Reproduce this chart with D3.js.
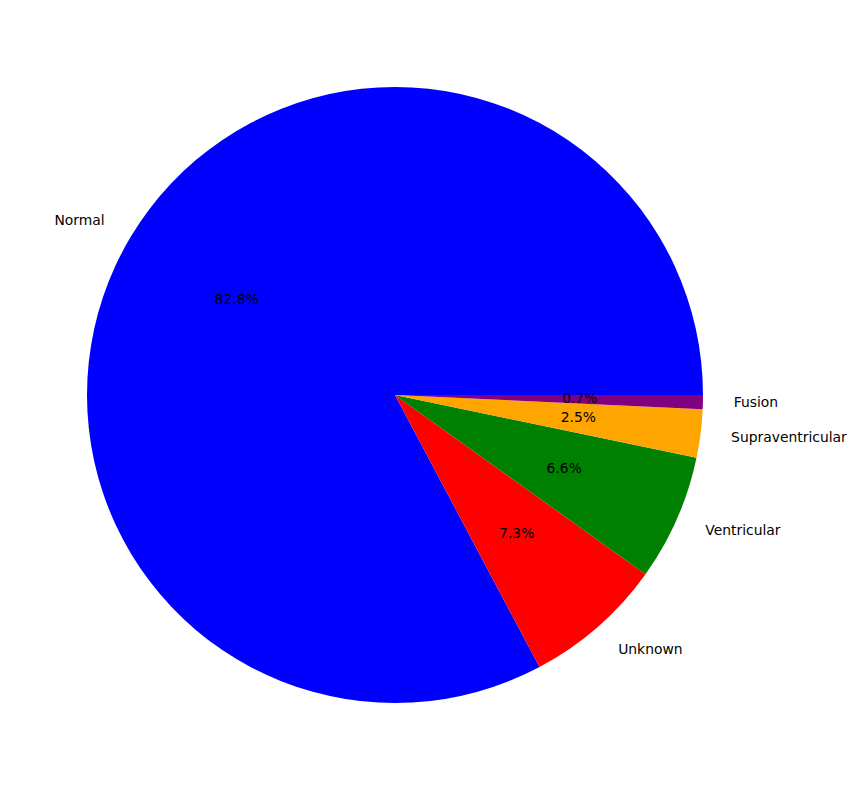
<!DOCTYPE html>
<html>
<head>
<meta charset="utf-8">
<script src="https://cdn.jsdelivr.net/npm/d3@7"></script>
<style>
  body { margin: 0; background: #fff; }
  text { font-family: "DejaVu Sans", sans-serif; font-size: 13.89px; fill: #000; }
</style>
</head>
<body>
<script>
// beat classes and counts (drawn counterclockwise from 3 o'clock)
const labels = ["Normal", "Unknown", "Ventricular", "Supraventricular", "Fusion"];
const counts = [72471, 6431, 5788, 2223, 641];
const colors = ["blue", "red", "green", "orange", "purple"];

const width = 857, height = 790;
const cx = 395, cy = 395, radius = 308;

const svg = d3.select("body").append("svg")
    .attr("width", width)
    .attr("height", height);

const g = svg.append("g")
    .attr("transform", `translate(${cx},${cy})`);

const total = d3.sum(counts);
const data = labels.map((l, i) => ({ label: l, value: counts[i], color: colors[i] }));

const pie = d3.pie()
    .value(d => d.value)
    .sort(null)
    .startAngle(Math.PI / 2)
    .endAngle(Math.PI / 2 - 2 * Math.PI);

const arcs = pie(data);
const arc = d3.arc().innerRadius(0).outerRadius(radius);

g.selectAll("path")
    .data(arcs)
    .enter()
    .append("path")
    .attr("d", arc)
    .attr("fill", d => d.data.color);

// position helpers: d3 angle is clockwise from 12 o'clock
const pos = (d, r) => {
    const a = (d.startAngle + d.endAngle) / 2;
    return [r * Math.sin(a), -r * Math.cos(a)];
};

g.selectAll("text.label")
    .data(arcs)
    .enter()
    .append("text")
    .attr("class", "label")
    .attr("x", d => pos(d, radius * 1.1)[0])
    .attr("y", d => pos(d, radius * 1.1)[1])
    .attr("dy", "0.3em")
    .attr("text-anchor", d => pos(d, 1)[0] > 0 ? "start" : "end")
    .text(d => d.data.label);

g.selectAll("text.pct")
    .data(arcs)
    .enter()
    .append("text")
    .attr("class", "pct")
    .attr("x", d => pos(d, radius * 0.6)[0])
    .attr("y", d => pos(d, radius * 0.6)[1])
    .attr("dy", "0.3em")
    .attr("text-anchor", "middle")
    .text(d => `${(d.data.value / total * 100).toFixed(1)}%`);
</script>
</body>
</html>
